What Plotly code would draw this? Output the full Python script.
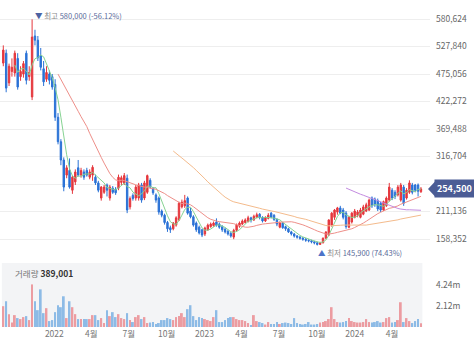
import numpy as np
import pandas as pd
import plotly.graph_objects as go

# ---------------- data (weekly, prices in thousand KRW, volume in thousand shares) -------------
week_start = "2021-08-30"

opens_k = [
    496, 515, 458, 480, 477, 505, 470, 475, 515, 470,
    431, 548, 540, 510, 485, 465, 475, 470, 455, 392,
    345, 310, 281, 290, 252, 268, 295, 281, 287, 290,
    277, 281, 277, 266, 237, 248, 262, 237, 256, 254,
    256, 267, 265, 275, 220, 242, 237, 237, 262, 237,
    248, 271, 256, 243, 237, 212, 204, 190, 180, 178,
    185, 195, 220, 222, 237, 212, 201, 189, 181, 176,
    168, 176, 182, 184, 191, 187, 182, 177, 173, 169,
    162, 175, 183, 187, 190, 192, 199, 195, 200, 206,
    200, 193, 198, 208, 204, 196, 181, 189, 182, 178,
    172, 168, 164, 162, 160, 158, 156, 155, 153, 151,
    148, 151, 160, 166, 185, 200, 210, 218, 214, 208,
    181, 191, 200, 204, 200, 206, 212, 214, 237, 235,
    232, 227, 214, 222, 233, 252, 248, 243, 233, 258,
    237, 248, 262, 262, 262, 249,
]
highs_k = [
    530, 522, 495, 505, 520, 515, 490, 500, 520, 490,
    580, 560, 548, 525, 500, 490, 482, 475, 465, 400,
    350, 315, 300, 313, 280, 292, 310, 295, 292, 295,
    292, 300, 282, 270, 260, 262, 265, 262, 260, 258,
    282, 280, 285, 282, 240, 246, 262, 266, 266, 270,
    282, 275, 258, 246, 240, 215, 207, 193, 184, 191,
    202, 230, 234, 243, 240, 218, 204, 192, 184, 178,
    182, 188, 190, 192, 198, 190, 185, 180, 176, 172,
    178, 188, 192, 196, 198, 203, 201, 205, 209, 208,
    202, 202, 208, 210, 206, 198, 192, 191, 184, 180,
    174, 170, 166, 164, 162, 160, 158, 157, 155, 153,
    153, 161, 173, 196, 210, 216, 220, 222, 218, 212,
    203, 210, 216, 214, 218, 224, 228, 236, 240, 238,
    236, 230, 232, 240, 266, 256, 252, 262, 266, 262,
    256, 271, 266, 264, 265, 258,
]
lows_k = [
    490, 440, 452, 470, 470, 445, 462, 468, 455, 462,
    425, 530, 500, 482, 452, 460, 455, 445, 385, 340,
    300, 250, 275, 255, 245, 262, 278, 276, 272, 278,
    273, 270, 262, 248, 232, 245, 240, 232, 245, 243,
    252, 262, 262, 208, 215, 232, 232, 232, 228, 233,
    245, 255, 243, 228, 205, 200, 186, 172, 170, 175,
    182, 193, 217, 218, 205, 198, 182, 172, 167, 162,
    164, 174, 180, 182, 182, 178, 172, 169, 165, 161,
    158, 172, 180, 185, 188, 190, 190, 193, 198, 196,
    190, 191, 196, 198, 193, 183, 179, 178, 174, 170,
    165, 161, 159, 157, 155, 153, 152, 150, 148, 145.9,
    147, 150, 158, 164, 182, 195, 205, 206, 196, 178,
    179, 188, 198, 200, 198, 204, 210, 212, 218, 220,
    212, 210, 212, 220, 230, 233, 235, 240, 230, 222,
    234, 245, 244, 248, 240, 247,
]
closes_k = [
    521, 448, 490, 488, 515, 450, 480, 495, 463, 478,
    546, 540, 506, 488, 460, 478, 463, 450, 392, 345,
    310, 258, 295, 258, 277, 287, 281, 290, 277, 281,
    287, 296, 266, 252, 258, 258, 252, 258, 248, 247,
    277, 276, 280, 214, 236, 236, 258, 262, 233, 266,
    280, 258, 247, 233, 210, 204, 190, 178, 176, 189,
    199, 227, 229, 232, 208, 201, 185, 176, 170, 166,
    179.5, 185, 187, 189, 185, 181, 176, 172, 168, 164,
    175, 185, 189, 193, 195, 199, 195, 202, 205, 200,
    193, 199, 204, 200, 196, 187, 189, 180, 178, 172,
    168, 164, 162, 160, 158, 156, 155, 153, 151, 148,
    151, 160, 172, 195, 208, 214, 218, 208, 200, 182,
    200, 208, 212, 210, 214, 220, 224, 233, 222, 224,
    216, 214, 230, 237, 258, 237, 240, 258, 262, 227,
    252, 266, 248, 252, 250, 254.5,
]
volumes_k = [
    2100, 2600, 1300, 450, 1200, 900, 800, 1000, 1100, 700,
    4300, 2600, 1700, 3800, 1400, 1900, 600, 700, 1500, 2200,
    2000, 3100, 900, 2600, 2000, 1300, 800, 800, 800, 800,
    800, 1200, 1200, 700, 900, 400, 1700, 1100, 1500, 1000,
    1300, 900, 800, 1400, 700, 500, 1000, 1200, 800, 1000,
    400, 450, 500, 300, 400, 700, 700, 900, 800, 700,
    1000, 1100, 1400, 1000, 1800, 2200, 1100, 700, 1000, 900,
    800, 700, 600, 1000, 1700, 500, 500, 700, 900, 1000,
    1000, 800, 700, 700, 600, 400, 200, 1200, 600, 500,
    400, 250, 500, 300, 300, 500, 300, 400, 450, 400,
    300, 900, 400, 300, 250, 300, 500, 250, 250, 300,
    450, 500, 600, 800, 2000, 800, 500, 450, 500, 600,
    900, 600, 500, 450, 450, 500, 800, 500, 450, 500,
    600, 450, 500, 900, 1000, 450, 500, 700, 2500, 500,
    900, 600, 400, 600, 800, 389.001,
]

price_ticks = [158352, 211136, 263920, 316704, 369488, 422272, 475056, 527840, 580624]
volume_ticks = [2120000, 4240000]
volume_tick_text = ["2.12m", "4.24m"]
date_ticks = ["2022-01-01", "2022-04-01", "2022-07-01", "2022-10-01", "2023-01-01",
              "2023-04-01", "2023-07-01", "2023-10-01", "2024-01-01", "2024-04-01"]
date_tick_text = ["2022", "4월", "7월", "10월", "2023", "4월", "7월", "10월", "2024", "4월"]
ma_windows = [5, 20, 60, 120]

# ---------------- styling ----------------
FONT = "Noto Sans CJK KR, Noto Sans, sans-serif"
UP = "#e5373d"
DOWN = "#2a72d6"
VOL_UP = "#ec9ca1"
VOL_DOWN = "#8dbbe6"
MA_COLORS = ["#86d392", "#ee8f89", "#f4bb8c", "#c38be0"]
TAG = "#4b5c95"
PRICE_RANGE = [121883, 617093]
PRICE_DOMAIN = [0.211, 1.0]
VOL_DOMAIN = [0.0, 0.1957]
X_RANGE = ["2021-08-22", "2024-07-02"]

dates = pd.date_range(week_start, periods=len(closes_k), freq="7D")
o = np.round(np.array(opens_k) * 1000)
h = np.round(np.array(highs_k) * 1000)
l = np.round(np.array(lows_k) * 1000)
c = np.round(np.array(closes_k) * 1000)
v = np.round(np.array(volumes_k) * 1000)

fig = go.Figure()

close_s = pd.Series(c, index=dates)
for w, col in zip(ma_windows, MA_COLORS):
    ma = close_s.rolling(w).mean()
    fig.add_trace(go.Scatter(x=dates, y=ma.values, mode="lines",
                             line=dict(color=col, width=1), hoverinfo="skip",
                             xaxis="x", yaxis="y"))

fig.add_trace(go.Candlestick(
    x=dates, open=o, high=h, low=l, close=c,
    increasing=dict(line=dict(color=UP, width=1), fillcolor=UP),
    decreasing=dict(line=dict(color=DOWN, width=1), fillcolor=DOWN),
    whiskerwidth=0, xaxis="x", yaxis="y"))

vol_colors = [VOL_UP if cc >= oo else VOL_DOWN for oo, cc in zip(o, c)]
fig.add_trace(go.Bar(x=dates, y=v, marker=dict(color=vol_colors, line=dict(width=0)),
                     width=4.5 * 86400000, xaxis="x2", yaxis="y2", hoverinfo="skip"))

tick_font = dict(family=FONT, size=8.5, color="#666666")

fig.update_layout(
    width=474, height=348,
    margin=dict(l=0, r=44, t=0, b=21),
    paper_bgcolor="white", plot_bgcolor="white",
    showlegend=False, boxgap=0.3,
    font=dict(family=FONT),
    xaxis=dict(domain=[0, 1], anchor="y", range=X_RANGE, type="date",
               showticklabels=False, showgrid=False, zeroline=False,
               rangeslider=dict(visible=False)),
    yaxis=dict(domain=PRICE_DOMAIN, anchor="x", side="right", range=PRICE_RANGE,
               tickvals=price_ticks, ticktext=[f"{t:,}" for t in price_ticks],
               gridcolor="#eeeeee", gridwidth=1, zeroline=False, showline=False,
               ticks="", ticklabelstandoff=5, tickfont=tick_font),
    xaxis2=dict(domain=[0, 1], anchor="y2", range=X_RANGE, type="date",
                tickvals=date_ticks, ticktext=date_tick_text, showgrid=False,
                zeroline=False, showline=False, ticks="", tickfont=dict(family=FONT, size=8.5, color="#777777")),
    yaxis2=dict(domain=VOL_DOMAIN, anchor="x2", side="right", range=[0, 6.46e6],
                tickvals=volume_ticks, ticktext=volume_tick_text, showgrid=False,
                zeroline=False, showline=False, ticks="", ticklabelstandoff=5,
                tickfont=tick_font),
)

# volume panel background
half_week = pd.Timedelta(days=3.5)
fig.add_shape(type="rect", xref="x2", yref="y2 domain",
              x0=dates[0] - half_week, x1=dates[-1] + half_week, y0=0, y1=1,
              fillcolor="#f3f4f6", line=dict(width=0), layer="below")

# high / low annotations
hi_idx = int(np.argmax(h))
lo_idx = int(np.argmin(l))
hi, lo, last = h[hi_idx], l[lo_idx], c[-1]
hi_txt = (f"<span style='color:#4d63a3'>▼</span> <span style='color:#8a8a8a'>최고</span> "
          f"<span style='color:#5a6b9a'>{hi:,.0f} ({(last / hi - 1) * 100:.2f}%)</span>")
lo_txt = (f"<span style='color:#4d73c8'>▲</span> <span style='color:#8a8a8a'>최저</span> "
          f"<span style='color:#5a6b9a'>{lo:,.0f} ({(last / lo - 1) * 100:.2f}%)</span>")
fig.add_annotation(x=dates[hi_idx], y=hi, xref="x", yref="y", text=hi_txt, showarrow=False,
                   xanchor="left", yanchor="middle", xshift=1, yshift=4,
                   font=dict(family=FONT, size=7.5))
fig.add_annotation(x=dates[lo_idx], y=lo, xref="x", yref="y", text=lo_txt, showarrow=False,
                   xanchor="left", yanchor="middle", xshift=-1, yshift=-7,
                   font=dict(family=FONT, size=7.5))

# volume label
fig.add_annotation(x=13 / 430, y=(327 - 273) / 327, xref="paper", yref="paper",
                   text=f"<span style='color:#777'>거래량</span> <b><span style='color:#333'>{v[-1]:,.0f}</span></b>",
                   showarrow=False, xanchor="left", yanchor="middle",
                   font=dict(family=FONT, size=8.5))

# last price tag
yp = PRICE_DOMAIN[0] + (last - PRICE_RANGE[0]) / (PRICE_RANGE[1] - PRICE_RANGE[0]) * (PRICE_DOMAIN[1] - PRICE_DOMAIN[0])
plot_w, plot_h = 430.0, 327.0
fig.add_shape(type="path", xref="paper", yref="paper",
              path=(f"M {1 + 5 / plot_w},{yp + 7.5 / plot_h} L {1 - 2 / plot_w},{yp} "
                    f"L {1 + 5 / plot_w},{yp - 7.5 / plot_h} Z"),
              fillcolor=TAG, line=dict(width=0), layer="above")
fig.add_annotation(x=1, y=yp, xref="paper", yref="paper", text=f"<b>{last:,.0f}</b>",
                   showarrow=False, xanchor="left", yanchor="middle", xshift=4,
                   bgcolor=TAG, borderpad=2, font=dict(family=FONT, size=9, color="white"))

fig.write_html("out.html")
